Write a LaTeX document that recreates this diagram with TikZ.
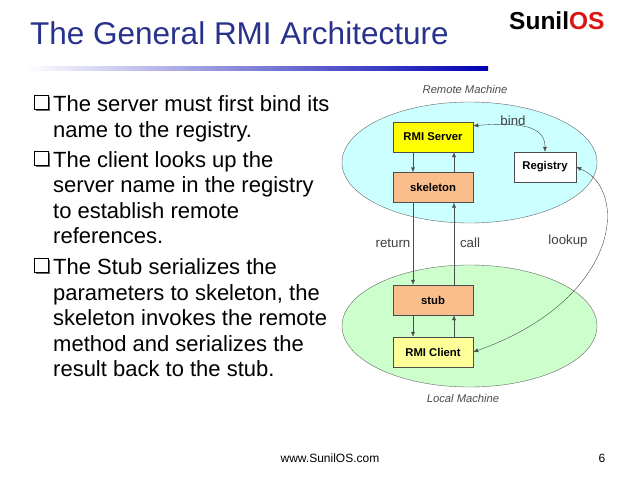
\documentclass[tikz,border=0pt]{standalone}
\usepackage{fontspec}
\setmainfont{Liberation Sans}
\usetikzlibrary{arrows.meta}
\definecolor{titleblue}{RGB}{40,50,140}
\definecolor{cyanfill}{RGB}{204,255,255}
\definecolor{greenfill}{RGB}{204,255,204}
\definecolor{peach}{RGB}{250,190,140}
\definecolor{srvyellow}{RGB}{255,255,0}
\definecolor{cliyellow}{RGB}{255,255,153}
\definecolor{osred}{RGB}{220,20,20}
\begin{document}
\begin{tikzpicture}[x=1pt,y=-1pt,
  box/.style={draw=black!70,minimum width=80pt,minimum height=30pt,font=\bfseries\fontsize{11.3}{11.3}\selectfont,inner sep=0pt},
  arr/.style={draw=black!70,-{Latex[length=5pt,width=4pt]}},
  lbl/.style={font=\fontsize{13.3}{13.3}\selectfont,text=black!75},
  itl/.style={font=\itshape\fontsize{11.2}{11.2}\selectfont,text=black!70},
  btxt/.style={anchor=base west,font=\fontsize{22}{22}\selectfont,inner sep=0pt}]
\useasboundingbox (0,0) rectangle (638,479);
\fill[white] (0,0) rectangle (638,479);
% title
\node[anchor=base west,inner sep=0pt,text=titleblue,font=\fontsize{31.5}{31.5}\selectfont] (title) at (30,45) {The General RMI Architecture};
\node[anchor=base west,inner sep=0pt,font=\bfseries\fontsize{24.5}{24.5}\selectfont] (logo) at (509,29) {Sunil\textcolor{osred}{OS}};
\shade[left color=white,right color=blue!70!black] (25,66) rectangle (488,70);
% bullets
\foreach \y/\t/\b in {111/{The server must first bind its}/1,137/{name to the registry.}/0,167/{The client looks up the}/1,192/{server name in the registry}/0,218/{to establish remote}/0,243/{references.}/0,274/{The Stub serializes the}/1,300/{parameters to skeleton, the}/0,325/{skeleton invokes the remote}/0,351/{method and serializes the}/0,376/{result back to the stub.}/0}{
  \node[btxt] at (53,\y) {\t};
  \ifnum\b=1
    \fill[black!60] (36,\y-14) rectangle (50,\y);
    \filldraw[fill=white,draw=black,line width=0.9pt] (34,\y-16) rectangle (48,\y-2);
  \fi
}
% ellipses
\filldraw[fill=cyanfill,draw=black!60] (469.5,162.5) ellipse [x radius=127.5,y radius=60.5];
\filldraw[fill=greenfill,draw=black!60] (469.5,326) ellipse [x radius=127.5,y radius=61];
\node[itl] (rm) at (465,89) {Remote Machine};
\node[itl] (lm) at (463,398) {Local Machine};
% boxes
\node[box,fill=srvyellow] (srv) at (433,137) {RMI Server};
\node[box,fill=peach] (skel) at (433,187.5) {skeleton};
\node[box,fill=white,minimum width=62pt] (reg) at (545,167) {Registry};
\node[box,fill=peach] (stub) at (433,300) {stub};
\node[box,fill=cliyellow] (cli) at (433,352) {RMI Client};
% arrows
\draw[arr] (srv.south -| 413,0) -- (skel.north -| 413,0);
\draw[arr] (skel.north -| 454,0) -- (srv.south -| 454,0);
\draw[arr] (skel.south -| 413,0) -- (stub.north -| 413,0);
\draw[arr] (stub.north -| 454,0) -- (skel.south -| 454,0);
\draw[arr] (stub.south -| 413,0) -- (cli.north -| 413,0);
\draw[arr] (cli.north -| 454,0) -- (stub.south -| 454,0);
\draw[arr,{Latex[length=5pt,width=4pt]}-{Latex[length=5pt,width=4pt]}] (srv.north east) ++(0,4) .. controls (530,121) and (545,130) .. (reg.north);
\draw[arr,{Latex[length=5pt,width=4pt]}-{Latex[length=5pt,width=4pt]}] (reg.east) .. controls (630,190) and (620,300) .. (cli.east);
\node[lbl] (bind) at (513,121) {bind};
\node[lbl] (ret) at (393,243) {return};
\node[lbl] (call) at (470,243) {call};
\node[lbl] (look) at (568,241) {lookup};
% footer
\node[font=\fontsize{12}{12}\selectfont] (foot) at (330,458) {www.SunilOS.com};
\node[font=\fontsize{12}{12}\selectfont] (pg) at (602,458) {6};
\end{tikzpicture}
\end{document}
